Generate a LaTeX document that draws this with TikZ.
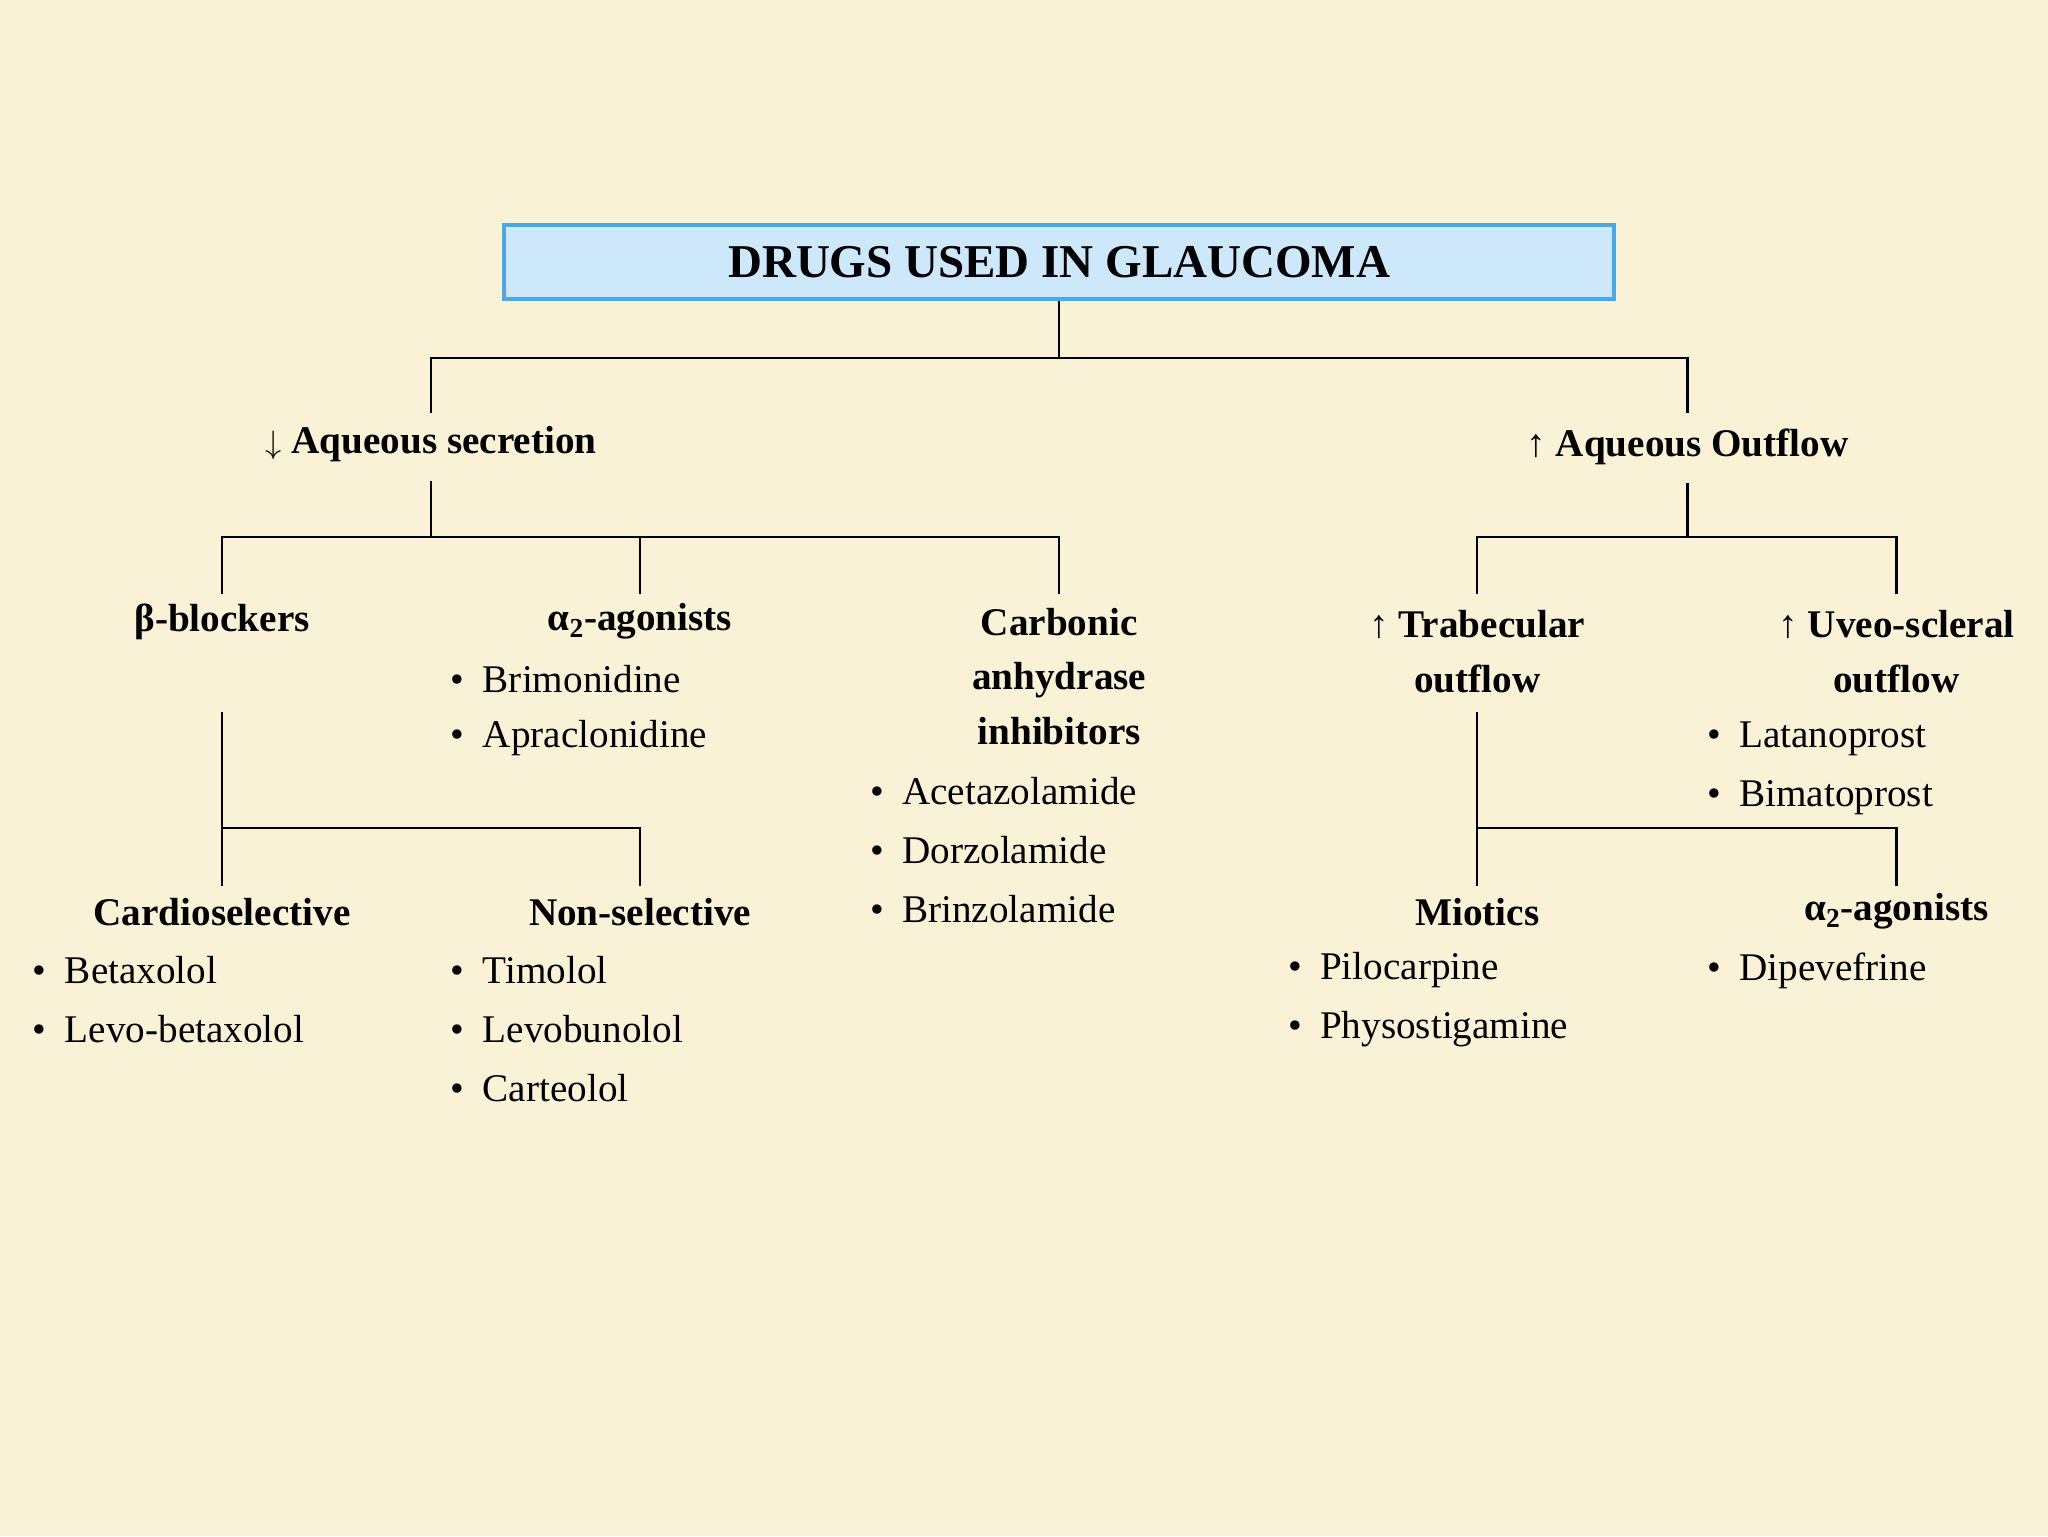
\documentclass[tikz,border=0pt]{standalone}
\usepackage{fontspec}
\setmainfont{Liberation Serif}
\begin{document}
\begin{tikzpicture}[x=1pt,y=-1pt,
  hd/.style={font=\fontsize{30}{36}\selectfont\bfseries,align=center,inner sep=0pt},
  it/.style={font=\fontsize{30}{36}\selectfont,anchor=west,inner sep=0pt},
  ln/.style={line width=1.6pt}]
\fill[fill={rgb,255:red,250;green,242;blue,214}] (0,0) rectangle (1568,1176);
\useasboundingbox (0,0) rectangle (1568,1176);
\node[draw={rgb,255:red,74;green,168;blue,232},line width=3pt,fill={rgb,255:red,205;green,232;blue,250},minimum width=850,minimum height=57,font=\fontsize{36}{40}\selectfont\bfseries] (title) at (811,200.5) {DRUGS USED IN GLAUCOMA};
\node[hd] (aqs) at (330,340) {$\downarrow$ Aqueous secretion};
\node[hd] (aqo) at (1292,342) {↑ Aqueous Outflow};
\coordinate (j1) at (811,274);
\draw[ln] (title.south) -- (j1);
\draw[ln] (330,316) |- (1292,274) -- (1292,316);
% left
\node[hd] (beta) at (170,476) {β-blockers};
\node[hd] (alpha) at (490,476) {α\textsubscript{2}-agonists};
\node[hd,text width=200] (cai) at (811,518) {Carbonic\\[6pt]anhydrase\\[6pt]inhibitors};
\draw[ln] (330,368) -- (330,411);
\draw[ln] (170,455) |- (811,411) -- (811,455);
\draw[ln] (490,411) -- (490,455);
\foreach \t [count=\i] in {Brimonidine,Apraclonidine}
  \node[it] (a\i) at (345,520+45*\i-45) {\textbullet\hspace{14pt}\t};
\foreach \t [count=\i] in {Acetazolamide,Dorzolamide,Brinzolamide}
  \node[it] (c\i) at (666,606+45*\i-45) {\textbullet\hspace{14pt}\t};
\draw[ln] (170,545) -- (170,678);
\draw[ln] (170,634) -| (490,678);
\node[hd] (card) at (170,698) {Cardioselective};
\node[hd] (nons) at (490,698) {Non-selective};
\foreach \t [count=\i] in {Betaxolol,Levo-betaxolol}
  \node[it] (b\i) at (25,743+45*\i-45) {\textbullet\hspace{14pt}\t};
\foreach \t [count=\i] in {Timolol,Levobunolol,Carteolol}
  \node[it] (n\i) at (345,743+45*\i-45) {\textbullet\hspace{14pt}\t};
% right
\draw[ln] (1292,370) -- (1292,411);
\draw[ln] (1131,455) |- (1452,411) -- (1452,455);
\node[hd] (trab) at (1131,499) {↑ Trabecular\\[6pt]outflow};
\node[hd] (uveo) at (1452,499) {↑ Uveo-scleral\\[6pt]outflow};
\foreach \t [count=\i] in {Latanoprost,Bimatoprost}
  \node[it] (u\i) at (1307,566+45*\i-45) {\textbullet\hspace{14pt}\t};
\draw[ln] (1131,545) -- (1131,678);
\draw[ln] (1131,634) -| (1452,678);
\node[hd] (mio) at (1131,698) {Miotics};
\node[hd] (alp2) at (1452,698) {α\textsubscript{2}-agonists};
\foreach \t [count=\i] in {Pilocarpine,Physostigamine}
  \node[it] (m\i) at (986,743+45*\i-45) {\textbullet\hspace{14pt}\t};
\node[it] (d1) at (1307,743) {\textbullet\hspace{14pt}Dipevefrine};
\end{tikzpicture}
\end{document}
